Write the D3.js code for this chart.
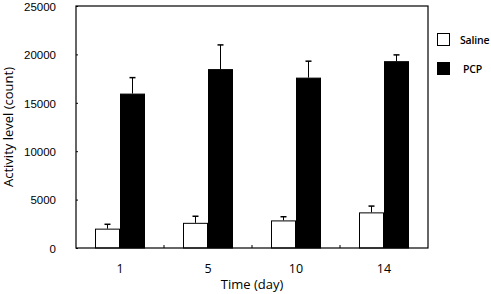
<!DOCTYPE html>
<html>
<head>
<meta charset="utf-8">
<script src="https://cdn.jsdelivr.net/npm/d3@7"></script>
<style>
  body { margin: 0; background: #fff; }
  svg { display: block; font-family: 'Open Sans', sans-serif; }
</style>
</head>
<body>
<svg id="chart" width="491" height="294"></svg>
<script>
const WIDTH = 491;
const HEIGHT = 294;

const days = ['1', '5', '10', '14'];
const series = ['Saline', 'PCP'];
const salineMean = [2000, 2600, 2850, 3680];
const salineErr = [450, 680, 380, 650];
const pcpMean = [15950, 18480, 17600, 19300];
const pcpErr = [1650, 2500, 1700, 650];
const yTicks = [0, 5000, 10000, 15000, 20000, 25000];

const margin = { left: 76, right: 63, top: 6, bottom: 46 };
const x0 = margin.left;
const x1 = WIDTH - margin.right;
const yBottom = HEIGHT - margin.bottom;

const svg = d3.select('#chart');

const x = d3.scaleBand().domain(days).range([x0, x1]).paddingInner(0).paddingOuter(0);
const xSub = d3.scaleBand().domain(series).range([0, 50]);
const y = d3.scaleLinear().domain([0, 25000]).range([yBottom, margin.top]);

const rows = [];
days.forEach((d, i) => {
  rows.push({ day: d, key: 'Saline', mean: salineMean[i], err: salineErr[i] });
  rows.push({ day: d, key: 'PCP', mean: pcpMean[i], err: pcpErr[i] });
});
const groupOffset = (x.bandwidth() - 50) / 2;
const barMid = (d) => x(d.day) + groupOffset + xSub(d.key) + xSub.bandwidth() / 2;

// error bars (drawn first so bars sit on top)
const eb = svg.append('g');
eb.selectAll('line.v').data(rows).enter().append('line')
  .attr('x1', barMid).attr('x2', barMid)
  .attr('y1', (d) => y(d.mean))
  .attr('y2', (d) => y(d.mean + d.err))
  .attr('stroke', '#000').attr('stroke-width', 1);
eb.selectAll('line.h').data(rows).enter().append('line')
  .attr('x1', (d) => barMid(d) - 3)
  .attr('x2', (d) => barMid(d) + 3)
  .attr('y1', (d) => y(d.mean + d.err))
  .attr('y2', (d) => y(d.mean + d.err))
  .attr('stroke', '#000').attr('stroke-width', 1.5);

// bars
svg.append('g').selectAll('rect').data(rows).enter().append('rect')
  .attr('x', (d) => x(d.day) + groupOffset + xSub(d.key) + 0.5)
  .attr('y', (d) => y(d.mean) + 0.5)
  .attr('width', xSub.bandwidth() - 1)
  .attr('height', (d) => yBottom - y(d.mean) - 0.5)
  .attr('fill', (d) => (d.key === 'PCP' ? '#000' : '#fff'))
  .attr('stroke', '#000').attr('stroke-width', 1);

// plot frame
svg.append('rect')
  .attr('x', x0).attr('y', margin.top)
  .attr('width', x1 - x0).attr('height', yBottom - margin.top)
  .attr('fill', 'none').attr('stroke', '#000').attr('stroke-width', 1.2);

// y axis: inward ticks, labels
const yAxis = d3.axisLeft(y).tickValues(yTicks).tickFormat(d3.format('d'))
  .tickSizeInner(-2).tickSizeOuter(0).tickPadding(20);
const ya = svg.append('g').attr('transform', `translate(${x0},0)`).call(yAxis);
ya.select('.domain').remove();
ya.selectAll('text').style('font-size', '11.5px').attr('fill', '#000').attr('dy', '0.38em');

// x axis: inward ticks at category boundaries
const boundaries = days.slice(1).map((d) => x(d));
svg.append('g').selectAll('line').data(boundaries).enter().append('line')
  .attr('x1', (d) => d).attr('x2', (d) => d)
  .attr('y1', yBottom).attr('y2', yBottom - 3)
  .attr('stroke', '#000');
svg.append('g').selectAll('text').data(days).enter().append('text')
  .attr('x', (d) => x(d) + x.bandwidth() / 2)
  .attr('y', 273)
  .attr('text-anchor', 'middle')
  .style('font-size', '12.5px')
  .text((d) => d);

// axis titles
svg.append('text')
  .attr('transform', `translate(13,${(yBottom + margin.top) / 2}) rotate(-90)`)
  .attr('text-anchor', 'middle')
  .style('font-size', '13px')
  .text('Activity level (count)');
svg.append('text')
  .attr('x', (x0 + x1) / 2).attr('y', 289)
  .attr('text-anchor', 'middle')
  .style('font-size', '13px')
  .text('Time (day)');

// legend
const legend = svg.append('g').selectAll('g').data(series).enter().append('g')
  .attr('transform', (d, i) => `translate(437,${33 + i * 29})`);
legend.append('rect')
  .attr('x', 0.5).attr('y', 0.5).attr('width', 12).attr('height', 12)
  .attr('fill', (d) => (d === 'PCP' ? '#000' : '#fff'))
  .attr('stroke', '#000');
legend.append('text')
  .attr('x', (d) => (d === 'PCP' ? 26 : 23)).attr('y', 10.5)
  .style('font-size', '10.5px')
  .style('font-weight', '600')
  .style('letter-spacing', '-0.2px')
  .text((d) => d);
</script>
</body>
</html>
